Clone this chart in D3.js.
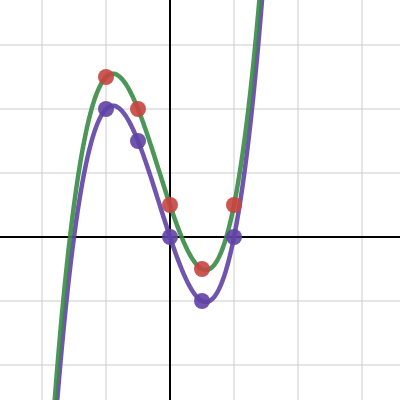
<!DOCTYPE html>
<html><head><meta charset="utf-8">
<script src="https://cdn.jsdelivr.net/npm/d3@7"></script>
<style>body{margin:0;background:#fff}</style></head>
<body><svg id="c" width="400" height="400"></svg>
<script>
const gridX = [-2,-1,1,2,3];
const gridY = [-2,-1,1,2,3];
const purplePts = [[-1,2],[-0.5,1.5],[0,0],[0.5,-1],[1,0]];
const redPts = [[-1,2.5],[-0.5,2],[0,0.5],[0.5,-0.5],[1,0.5]];
const purpleCoef = [2,1,-3,0];   // a,b,c,d of cubic
const greenCoef = [2,1,-3,0.5];

const svg = d3.select("#c");
const x = d3.scaleLinear().domain([-170/64, 230/64]).range([0,400]);
const y = d3.scaleLinear().domain([-163/64, 237/64]).range([400,0]);

svg.append("g").selectAll("line").data(gridX).join("line")
  .attr("x1",d=>x(d)).attr("x2",d=>x(d)).attr("y1",0).attr("y2",400)
  .attr("stroke","#ccc").attr("stroke-width",1);
svg.append("g").selectAll("line").data(gridY).join("line")
  .attr("y1",d=>y(d)).attr("y2",d=>y(d)).attr("x1",0).attr("x2",400)
  .attr("stroke","#ccc").attr("stroke-width",1);
svg.append("line").attr("x1",x(0)).attr("x2",x(0)).attr("y1",0).attr("y2",400).attr("stroke","#000").attr("stroke-width",2);
svg.append("line").attr("y1",y(0)).attr("y2",y(0)).attr("x1",0).attr("x2",400).attr("stroke","#000").attr("stroke-width",2);

const xs = d3.range(-2.7, 3.6, 0.01);
const cubic = c => t => c[0]*t*t*t + c[1]*t*t + c[2]*t + c[3];
const line = d3.line().x(d=>x(d[0])).y(d=>y(d[1]));
function curve(coef,col){
  const f = cubic(coef);
  svg.append("path").datum(xs.map(t=>[t,f(t)]).filter(d=>d[1]>-4&&d[1]<6))
    .attr("d",line).attr("fill","none").attr("stroke",col).attr("stroke-width",4.5).attr("stroke-opacity",0.9);
}
curve(purpleCoef,"#6042a6");
curve(greenCoef,"#388c46");
svg.append("g").selectAll("circle").data(redPts).join("circle")
  .attr("cx",d=>x(d[0])).attr("cy",d=>y(d[1])).attr("r",8).attr("fill","#c74440").attr("fill-opacity",0.9);
svg.append("g").selectAll("circle").data(purplePts).join("circle")
  .attr("cx",d=>x(d[0])).attr("cy",d=>y(d[1])).attr("r",8).attr("fill","#6042a6").attr("fill-opacity",0.9);
</script></body></html>
